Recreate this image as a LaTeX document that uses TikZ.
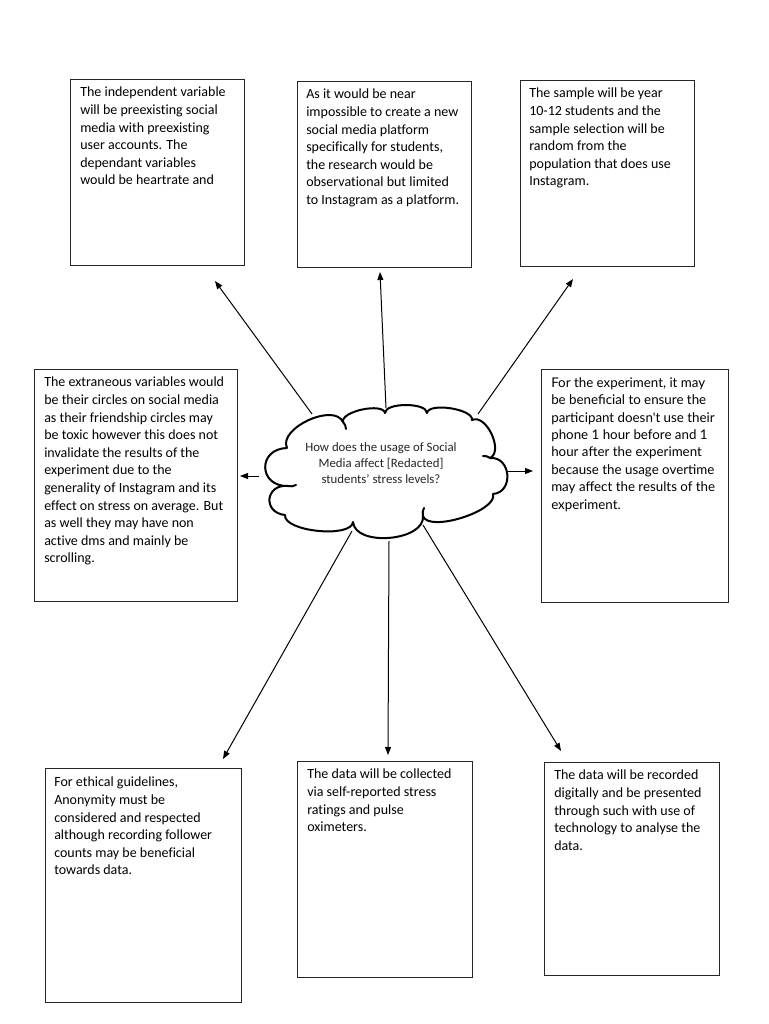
\documentclass[tikz,border=0pt]{standalone}
\usepackage{fontspec}
\setmainfont{Carlito}[Ligatures=NoCommon]
\newfontfamily\latofont{Lato}
\usetikzlibrary{arrows.meta}
\begin{document}
\begin{tikzpicture}[x=0.75pt,y=-0.75pt,
  box/.style={draw=black!85,line width=1pt,anchor=north west,inner sep=0pt,fill=white},
  txt/.style={anchor=north west,inner sep=0pt,align=left,font=\fontsize{10.5pt}{13.2pt}\selectfont},
  ltxt/.style={anchor=north west,inner sep=0pt,align=left,font=\latofont\fontsize{10pt}{13.1pt}\selectfont},
  arr/.style={line width=0.75pt,-{Triangle[length=6pt,width=4.5pt]}},
  cloudline/.style={draw=black,line width=1.5pt,line join=round,line cap=round}]
\useasboundingbox[fill=white] (0,0) rectangle (768,1024);

% boxes
\node[box,minimum width=130.5pt,minimum height=139.5pt] (b1) at (70,79) {};
\node[box,minimum width=130.5pt,minimum height=139.5pt] (b2) at (297,81) {};
\node[box,minimum width=130.5pt,minimum height=139.5pt] (b3) at (520,80) {};
\node[box,minimum width=152.25pt,minimum height=174pt] (b4) at (34,369) {};
\node[box,minimum width=140.25pt,minimum height=174.75pt] (b5) at (541,369) {};
\node[box,minimum width=147pt,minimum height=175.5pt] (b6) at (45,768) {};
\node[box,minimum width=131.25pt,minimum height=162pt] (b7) at (297,761) {};
\node[box,minimum width=131.25pt,minimum height=159.75pt] (b8) at (544,762) {};

% texts
\node[txt] (x1) at ([shift={(10,8)}]b1.north west) {The independent variable\\will be preexisting social\\media with preexisting\\user accounts. The\\dependant variables\\would be heartrate and};
\node[txt] (x2) at ([shift={(9,8)}]b2.north west) {As it would be near\\impossible to create a new\\social media platform\\specifically for students,\\the research would be\\observational but limited\\to Instagram as a platform.};
\node[txt] (x3) at ([shift={(9,8)}]b3.north west) {The sample will be year\\10-12 students and the\\sample selection will be\\random from the\\population that does use\\Instagram.};
\node[txt] (x4) at ([shift={(10,8)}]b4.north west) {The extraneous variables would\\be their circles on social media\\as their friendship circles may\\be toxic however this does not\\invalidate the results of the\\experiment due to the\\generality of Instagram and its\\effect on stress on average. But\\as well they may have non\\active dms and mainly be\\scrolling.};
\node[ltxt] (x5) at ([shift={(10,8)}]b5.north west) {For the experiment, it may\\be beneficial to ensure the\\participant doesn't use their\\phone 1 hour before and 1\\hour after the experiment\\because the usage overtime\\may affect the results of the\\experiment.};
\node[txt] (x6) at ([shift={(9,9)}]b6.north west) {For ethical guidelines,\\Anonymity must be\\considered and respected\\although recording follower\\counts may be beneficial\\towards data.};
\node[txt] (x7) at ([shift={(10,8)}]b7.north west) {The data will be collected\\via self-reported stress\\ratings and pulse\\oximeters.};
\node[txt] (x8) at ([shift={(10,8)}]b8.north west) {The data will be recorded\\digitally and be presented\\through such with use of\\technology to analyse the\\data.};

% cloud outline
\coordinate (cA) at (287,448);
\coordinate (cB) at (343,422);
\coordinate (cC) at (385,413);
\coordinate (cD) at (427,413);
\coordinate (cE) at (472,420);
\coordinate (cF) at (490,458);
\coordinate (cG) at (493,494);
\coordinate (cH) at (423,516);
\coordinate (cI) at (353,522);
\coordinate (cJ) at (285,515);
\coordinate (cK) at (288,486);
\filldraw[cloudline,fill=white] (cA)
  to[bend left=90,looseness=0.9] (cB)
  to[bend left=90,looseness=0.65] (cC)
  to[bend left=90,looseness=0.65] (cD)
  to[bend left=90,looseness=0.62] (cE)
  to[bend left=90,looseness=0.95] (cF)
  to[bend left=90,looseness=1.5] (cG)
  to[bend left=90,looseness=0.62] (cH)
  to[bend left=90,looseness=0.92] (cI)
  to[bend left=90,looseness=0.62] (cJ)
  to[bend left=90,looseness=2.0] (cK)
  to[bend left=90,looseness=2.0] (cA);
% small inner hooks
\draw[cloudline] (cB) to[bend left=20] ++(3,7);
\draw[cloudline] (cK) to[bend right=20] ++(8,-1);
\draw[cloudline] (cH) to[bend left=20] ++(1,-8);
\draw[cloudline] (cF) to[bend right=20] ++(-7,-2);

\node[align=center,inner sep=0pt,text=black!85,font=\fontsize{9.6pt}{12.2pt}\selectfont] (q) at (381,463) {How does the usage of Social\\Media affect [Redacted]\\students' stress levels?};

% connector ends on the cloud
\coordinate (s1) at (312,414);
\coordinate (s2) at (386,408);
\coordinate (s3) at (478,414);
\coordinate (s4) at (259,476);
\coordinate (s5) at (506,471);
\coordinate (s6) at (352,531);
\coordinate (s7) at (389,541);
\coordinate (s8) at (423,525);
% arrow tips
\coordinate (t1) at (215,281);
\coordinate (t2) at (380,272);
\coordinate (t3) at (573,279);
\coordinate (t4) at (240,476);
\coordinate (t5) at (533,471);
\coordinate (t6) at (223,759);
\coordinate (t7) at (388,755);
\coordinate (t8) at (561,751);

\draw[arr] (s1) -- (t1);
\draw[arr] (s2) -- (t2);
\draw[arr] (s3) -- (t3);
\draw[arr] (s4) -- (t4);
\draw[arr] (s5) -- (t5);
\draw[arr] (s6) -- (t6);
\draw[arr] (s7) -- (t7);
\draw[arr] (s8) -- (t8);
\end{tikzpicture}
\end{document}
